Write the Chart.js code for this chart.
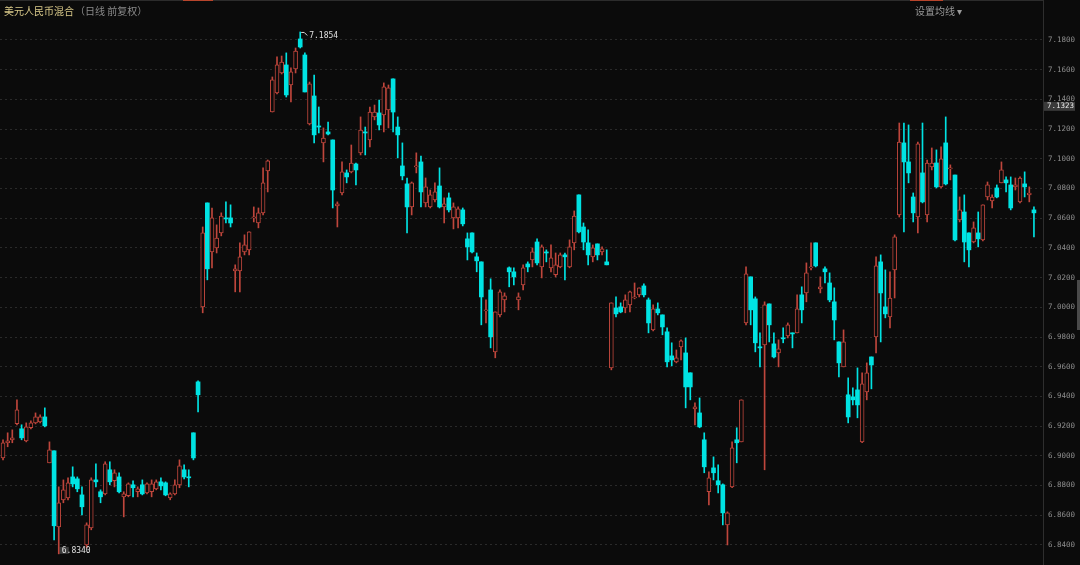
<!DOCTYPE html>
<html>
<head>
<meta charset="utf-8">
<script src="https://cdn.jsdelivr.net/npm/chart.js@4.4.1/dist/chart.umd.min.js"></script>
<style>
  html, body { margin: 0; padding: 0; background: #0b0b0b; }
  #wrap { position: relative; width: 1080px; height: 565px; }
</style>
</head>
<body>
<div id="wrap"><canvas id="kline"></canvas></div>
<script>
// ==== 数据 (日线, 前复权) ====
const TITLE = '美元人民币混合';
const SUBTITLE = '（日线 前复权）';
const MENU = '设置均线 ▾';
const CURSOR_PRICE = 7.1323;

const Y_TICKS = [6.84, 6.86, 6.88, 6.90, 6.92, 6.94, 6.96, 6.98, 7.00,
                 7.02, 7.04, 7.06, 7.08, 7.10, 7.12, 7.14, 7.16, 7.18];

const OPEN = [
  6.8986, 6.9088, 6.9108, 6.9216, 6.9182, 6.9101, 6.9189, 6.9222, 6.9229, 6.9262,
  6.8953, 6.9034, 6.8522, 6.8704, 6.8717, 6.8858, 6.8845, 6.8737, 6.8400, 6.8515,
  6.8838, 6.8758, 6.8744, 6.8906, 6.8832, 6.8858, 6.8724, 6.8731, 6.8805, 6.8758,
  6.8805, 6.8751, 6.8758, 6.8778, 6.8825, 6.8818, 6.8717, 6.8744, 6.8805, 6.8906,
  6.8858, 6.9155, 6.9498, 7.0003, 7.0703, 7.0373, 7.0400, 7.0501, 7.0602, 7.0602,
  7.0245, 7.0245, 7.0373, 7.0387, 7.0602, 7.0568, 7.0636, 7.0918, 7.1315, 7.1443,
  7.1578, 7.1632, 7.1497, 7.1605, 7.1807, 7.1699, 7.1235, 7.1423, 7.1221, 7.1107,
  7.1181, 7.1127, 7.0683, 7.0770, 7.0905, 7.0912, 7.0965, 7.1040, 7.1181, 7.1127,
  7.1282, 7.1309, 7.1295, 7.1329, 7.1538, 7.1214, 7.0952, 7.0831, 7.0676, 7.0945,
  7.0979, 7.0703, 7.0676, 7.0723, 7.0817, 7.0676, 7.0737, 7.0602, 7.0602, 7.0656,
  7.0461, 7.0501, 7.0340, 7.0306, 6.9976, 7.0117, 6.9700, 6.9949, 7.0050, 7.0266,
  7.0239, 7.0050, 7.0151, 7.0292, 7.0319, 7.0440, 7.0272, 7.0373, 7.0266, 7.0219,
  7.0272, 7.0353, 7.0272, 7.0434, 7.0757, 7.0541, 7.0434, 7.0340, 7.0427, 7.0373,
  7.0306, 6.9592, 6.9996, 7.0003, 6.9996, 7.0016, 7.0063, 7.0084, 7.0144, 7.0050,
  6.9848, 6.9989, 6.9949, 6.9835, 6.9673, 6.9633, 6.9734, 6.9693, 6.9559, 6.9316,
  6.9289, 6.9108, 6.8758, 6.8919, 6.8832, 6.8805, 6.8535, 6.8791, 6.9108, 6.9094,
  6.9895, 7.0205, 7.0057, 6.9734, 6.9747, 7.0023, 6.9754, 6.9693, 6.9794, 6.9808,
  6.9828, 6.9828, 7.0084, 7.0097, 7.0266, 7.0434, 7.0124, 7.0259, 7.0164, 7.0037,
  6.9767, 6.9599, 6.9411, 6.9397, 6.9444, 6.9094, 6.9431, 6.9666, 6.9801, 7.0306,
  7.0003, 6.9936, 7.0252, 7.0622, 7.1107, 7.0979, 7.0743, 7.0608, 7.0905, 7.0622,
  7.0945, 7.0972, 7.0811, 7.1107, 7.0932, 7.0891, 7.0588, 7.0642, 7.0501, 7.0440,
  7.0501, 7.0454, 7.0743, 7.0716, 7.0804, 7.0838, 7.0858, 7.0824, 7.0811, 7.0710,
  7.0831, 7.0757, 7.0656
];
const HIGH = [
  6.9108, 6.9155, 6.9175, 6.9377, 6.9209, 6.9222, 6.9235, 6.9289, 6.9276, 6.9323,
  6.9094, 6.9034, 6.8791, 6.8838, 6.8852, 6.8926, 6.8858, 6.8791, 6.8549, 6.8852,
  6.8946, 6.8771, 6.8960, 6.8960, 6.8906, 6.8885, 6.8758, 6.8818, 6.8832, 6.8791,
  6.8838, 6.8818, 6.8838, 6.8838, 6.8852, 6.8825, 6.8751, 6.8838, 6.8973, 6.8940,
  6.8906, 6.9155, 6.9505, 7.0541, 7.0703, 7.0669, 7.0555, 7.0636, 7.0710, 7.0690,
  7.0286, 7.0434, 7.0488, 7.0508, 7.0676, 7.0669, 7.0939, 7.0992, 7.1551, 7.1686,
  7.1692, 7.1713, 7.1612, 7.1746, 7.1854, 7.1713, 7.1517, 7.1564, 7.1349, 7.1208,
  7.1248, 7.1127, 7.0710, 7.0979, 7.0925, 7.1093, 7.0972, 7.1282, 7.1214, 7.1349,
  7.1362, 7.1396, 7.1511, 7.1497, 7.1538, 7.1282, 7.1107, 7.0871, 7.0844, 7.1040,
  7.1019, 7.0871, 7.0790, 7.0838, 7.0939, 7.0737, 7.0770, 7.0703, 7.0676, 7.0669,
  7.0501, 7.0501, 7.0366, 7.0306, 7.0050, 7.0192, 6.9969, 7.0117, 7.0097, 7.0272,
  7.0266, 7.0097, 7.0286, 7.0306, 7.0400, 7.0461, 7.0420, 7.0387, 7.0420, 7.0366,
  7.0366, 7.0366, 7.0454, 7.0649, 7.0757, 7.0568, 7.0521, 7.0420, 7.0427, 7.0407,
  7.0387, 7.0030, 7.0070, 7.0030, 7.0084, 7.0110, 7.0164, 7.0131, 7.0158, 7.0063,
  7.0016, 7.0030, 6.9949, 6.9862, 6.9761, 6.9713, 6.9781, 6.9794, 6.9559, 6.9357,
  6.9390, 6.9155, 6.8893, 6.8993, 6.8940, 6.8811, 6.8623, 6.9094, 6.9189, 6.9377,
  7.0272, 7.0205, 7.0070, 6.9828, 7.0037, 7.0023, 6.9828, 6.9781, 6.9862, 6.9895,
  6.9828, 7.0084, 7.0138, 7.0299, 7.0434, 7.0434, 7.0205, 7.0272, 7.0232, 7.0131,
  6.9767, 6.9848, 6.9525, 6.9458, 6.9592, 6.9559, 6.9626, 6.9666, 7.0340, 7.0353,
  7.0252, 7.0239, 7.0488, 7.1241, 7.1241, 7.1228, 7.0770, 7.1113, 7.1241, 7.0992,
  7.1073, 7.1060, 7.1080, 7.1282, 7.0959, 7.0891, 7.0743, 7.0757, 7.0501, 7.0575,
  7.0642, 7.0690, 7.0844, 7.0757, 7.0824, 7.0979, 7.0878, 7.0878, 7.0871, 7.0878,
  7.0912, 7.0811, 7.0676
];
const LOW = [
  6.8973, 6.9061, 6.9088, 6.9209, 6.9108, 6.9094, 6.9182, 6.9215, 6.9222, 6.9195,
  6.8953, 6.8434, 6.8340, 6.8684, 6.8704, 6.8791, 6.8758, 6.8603, 6.8380, 6.8502,
  6.8791, 6.8684, 6.8737, 6.8805, 6.8791, 6.8751, 6.8589, 6.8724, 6.8724, 6.8724,
  6.8737, 6.8744, 6.8724, 6.8771, 6.8771, 6.8731, 6.8704, 6.8737, 6.8785, 6.8845,
  6.8791, 6.8973, 6.9296, 6.9963, 7.0185, 7.0266, 7.0366, 7.0481, 7.0568, 7.0541,
  7.0104, 7.0104, 7.0353, 7.0353, 7.0575, 7.0535, 7.0622, 7.0777, 7.1315, 7.1437,
  7.1571, 7.1416, 7.1383, 7.1578, 7.1746, 7.1450, 7.1228, 7.1107, 7.1174, 7.0979,
  7.1161, 7.0669, 7.0541, 7.0757, 7.0838, 7.0905, 7.0824, 7.1026, 7.1026, 7.1080,
  7.1262, 7.1194, 7.1181, 7.1208, 7.1181, 7.1006, 7.0858, 7.0501, 7.0622, 7.0905,
  7.0676, 7.0676, 7.0669, 7.0710, 7.0669, 7.0568, 7.0642, 7.0528, 7.0535, 7.0548,
  7.0319, 7.0366, 7.0239, 6.9882, 6.9895, 6.9727, 6.9660, 6.9936, 6.9969, 7.0138,
  7.0151, 6.9983, 7.0117, 7.0239, 7.0272, 7.0286, 7.0198, 7.0306, 7.0239, 7.0205,
  7.0266, 7.0185, 7.0266, 7.0387, 7.0501, 7.0387, 7.0286, 7.0306, 7.0319, 7.0353,
  7.0286, 6.9579, 6.9936, 6.9963, 6.9963, 6.9969, 7.0057, 7.0070, 7.0070, 6.9828,
  6.9841, 6.9949, 6.9815, 6.9599, 6.9606, 6.9626, 6.9646, 6.9323, 6.9377, 6.9209,
  6.9189, 6.8886, 6.8670, 6.8838, 6.8751, 6.8535, 6.8400, 6.8785, 6.8953, 6.9094,
  6.9882, 6.9882, 6.9700, 6.9599, 6.8906, 6.9767, 6.9660, 6.9599, 6.9761, 6.9794,
  6.9727, 6.9828, 6.9895, 7.0037, 7.0252, 7.0272, 7.0097, 7.0164, 7.0037, 6.9781,
  6.9532, 6.9599, 6.9222, 6.9343, 6.9256, 6.9088, 6.9377, 6.9451, 6.9693, 6.9767,
  6.9929, 6.9862, 7.0063, 7.0608, 7.0508, 7.0838, 7.0575, 7.0501, 7.0703, 7.0575,
  7.0925, 7.0804, 7.0804, 7.0824, 7.0858, 7.0447, 7.0575, 7.0306, 7.0272, 7.0434,
  7.0407, 7.0447, 7.0723, 7.0669, 7.0737, 7.0838, 7.0777, 7.0656, 7.0790, 7.0703,
  7.0743, 7.0710, 7.0474
];
const CLOSE = [
  6.9088, 6.9101, 6.9121, 6.9310, 6.9121, 6.9195, 6.9222, 6.9262, 6.9262, 6.9202,
  6.9040, 6.8529, 6.8684, 6.8771, 6.8818, 6.8811, 6.8778, 6.8657, 6.8535, 6.8838,
  6.8825, 6.8724, 6.8946, 6.8825, 6.8885, 6.8758, 6.8744, 6.8811, 6.8785, 6.8778,
  6.8744, 6.8811, 6.8811, 6.8825, 6.8798, 6.8737, 6.8744, 6.8805, 6.8933, 6.8858,
  6.8852, 6.8986, 6.9411, 7.0501, 7.0259, 7.0602, 7.0467, 7.0615, 7.0595, 7.0568,
  7.0259, 7.0340, 7.0420, 7.0508, 7.0608, 7.0636, 7.0838, 7.0986, 7.1531, 7.1632,
  7.1652, 7.1430, 7.1585, 7.1726, 7.1753, 7.1450, 7.1504, 7.1161, 7.1214, 7.1140,
  7.1167, 7.0790, 7.0696, 7.0912, 7.0878, 7.0972, 7.0925, 7.1194, 7.1174, 7.1315,
  7.1315, 7.1228, 7.1484, 7.1477, 7.1315, 7.1161, 7.0885, 7.0676, 7.0838, 7.0952,
  7.0777, 7.0811, 7.0757, 7.0777, 7.0676, 7.0696, 7.0656, 7.0676, 7.0663, 7.0562,
  7.0407, 7.0373, 7.0313, 7.0070, 6.9983, 6.9801, 6.9969, 7.0104, 7.0077, 7.0239,
  7.0205, 7.0070, 7.0266, 7.0272, 7.0373, 7.0299, 7.0407, 7.0366, 7.0333, 7.0286,
  7.0353, 7.0340, 7.0407, 7.0615, 7.0508, 7.0440, 7.0353, 7.0400, 7.0353, 7.0393,
  7.0286, 7.0030, 6.9956, 6.9969, 7.0050, 7.0104, 7.0070, 7.0131, 7.0084, 6.9895,
  6.9989, 6.9963, 6.9868, 6.9633, 6.9646, 6.9660, 6.9774, 6.9464, 6.9464, 6.9330,
  6.9195, 6.8926, 6.8852, 6.8886, 6.8805, 6.8616, 6.8616, 6.9054, 6.9088, 6.9377,
  7.0225, 6.9983, 6.9761, 6.9727, 7.0016, 6.9882, 6.9666, 6.9720, 6.9788, 6.9882,
  6.9821, 6.9989, 6.9983, 7.0232, 7.0272, 7.0279, 7.0138, 7.0239, 7.0050, 6.9915,
  6.9626, 6.9767, 6.9262, 6.9377, 6.9343, 6.9485, 6.9559, 6.9612, 7.0279, 7.0097,
  6.9956, 7.0063, 7.0474, 7.1113, 7.0979, 7.0905, 7.0636, 7.1100, 7.0710, 7.0972,
  7.0972, 7.0811, 7.0999, 7.0831, 7.0939, 7.0454, 7.0656, 7.0440, 7.0387, 7.0535,
  7.0461, 7.0690, 7.0824, 7.0743, 7.0743, 7.0925, 7.0838, 7.0669, 7.0824, 7.0871,
  7.0811, 7.0770, 7.0636
];

// ==== 颜色 ====
const BG = '#0b0b0b';
const RED = '#bf463c';
const CYAN = '#00e3e3';
const GRID = '#2a2a2a';
const AXIS_TXT = '#8e8e8e';

const isUp = i => CLOSE[i] >= OPEN[i];
const wickData = OPEN.map((o, i) => ({ x: i, y: [LOW[i], HIGH[i]] }));
const bodyData = OPEN.map((o, i) => ({ x: i, y: [o, CLOSE[i]] }));

// 顶部标题 / 右侧价位 / 最高最低标注
const decor = {
  id: 'decor',
  beforeDraw(chart) {
    const { ctx, width, height } = chart;
    ctx.save();
    ctx.fillStyle = BG;
    ctx.fillRect(0, 0, width, height);
    ctx.restore();
  },
  afterDraw(chart) {
    const { ctx, chartArea, scales: { x, y } } = chart;
    ctx.save();
    // 顶部细线和标签页残影
    ctx.fillStyle = '#2c2c2c';
    ctx.fillRect(0, 0, 1043, 1);
    ctx.fillStyle = '#b8452c';
    ctx.fillRect(183, 0, 30, 1);
    ctx.fillRect(910, 0, 33, 1);
    // 右侧坐标轴竖线
    ctx.fillStyle = '#2e2e2e';
    ctx.fillRect(chartArea.right, 0, 1, chart.height);
    // 右边缘滚动条
    ctx.fillStyle = '#4a4a4a';
    ctx.fillRect(1077, 280, 3, 50);

    // 标题
    ctx.textBaseline = 'middle';
    ctx.textAlign = 'left';
    ctx.font = '10px "Noto Sans CJK SC"';
    ctx.fillStyle = '#d9c98a';
    ctx.fillText(TITLE, 4, 11);
    const tw = ctx.measureText(TITLE).width;
    ctx.fillStyle = '#8a8a8a';
    ctx.fillText(SUBTITLE, 4 + tw + 1, 11);
    ctx.fillStyle = '#9a9a9a';
    ctx.fillText(MENU, 915, 11);

    // 当前价位标签
    const cy = y.getPixelForValue(CURSOR_PRICE) - 5;
    ctx.fillStyle = '#3a3a3a';
    ctx.fillRect(chartArea.right + 1, cy - 4, 31, 9);
    ctx.font = '7.5px "DejaVu Sans Mono"';
    ctx.fillStyle = '#e6e6e6';
    ctx.fillText(CURSOR_PRICE.toFixed(4), chartArea.right + 4, cy + 0.5);

    // 最高 / 最低
    const hi = HIGH.indexOf(Math.max(...HIGH));
    const lo = LOW.indexOf(Math.min(...LOW));
    ctx.font = '8px "DejaVu Sans Mono"';
    ctx.strokeStyle = '#d8d8d8';
    ctx.fillStyle = '#e0e0e0';
    ctx.lineWidth = 1;
    let px = x.getPixelForValue(hi), py = y.getPixelForValue(HIGH[hi]);
    ctx.beginPath();
    ctx.moveTo(px + 1, py + 0.5);
    ctx.lineTo(px + 4, py + 0.5);
    ctx.lineTo(px + 7, py + 3.5);
    ctx.stroke();
    ctx.fillText(HIGH[hi].toFixed(4), px + 9, py + 4);

    px = x.getPixelForValue(lo); py = y.getPixelForValue(LOW[lo]);
    ctx.fillStyle = 'rgba(150,150,150,0.35)';
    ctx.fillRect(px + 1, py - 7, 9, 7);
    ctx.fillStyle = '#e0e0e0';
    ctx.fillText(LOW[lo].toFixed(4), px + 3, py - 3);
    ctx.restore();
  }
};

new Chart(document.getElementById('kline'), {
  type: 'bar',
  data: {
    datasets: [
      {
        label: 'wick',
        data: wickData,
        backgroundColor: ctx => isUp(ctx.dataIndex) ? RED : CYAN,
        barThickness: 1,
        grouped: false,
        order: 2
      },
      {
        label: 'body',
        data: bodyData,
        backgroundColor: ctx => isUp(ctx.dataIndex) ? BG : CYAN,
        borderColor: ctx => isUp(ctx.dataIndex) ? RED : CYAN,
        borderWidth: ctx => isUp(ctx.dataIndex) ? 1 : 0,
        borderSkipped: false,
        barThickness: 4,
        minBarLength: 1,
        grouped: false,
        order: 1
      }
    ]
  },
  options: {
    responsive: true,
    maintainAspectRatio: false,
    animation: false,
    layout: { padding: { top: 18, left: 0, right: 0, bottom: 0 } },
    plugins: { legend: { display: false }, tooltip: { enabled: false } },
    scales: {
      x: {
        type: 'linear',
        min: -0.65,
        max: 223.95,
        offset: false,
        display: false
      },
      y: {
        position: 'right',
        min: 6.8265,
        max: 7.1948,
        afterBuildTicks: axis => { axis.ticks = Y_TICKS.map(v => ({ value: v })); },
        afterFit: axis => {
          axis.width = 37;
          axis.paddingTop = 0;
          axis.paddingBottom = 0;
        },
        grid: { color: GRID, lineWidth: 1, drawTicks: false },
        border: { display: false, dash: [2, 3] },
        ticks: {
          padding: 5,
          color: AXIS_TXT,
          font: { family: 'DejaVu Sans Mono', size: 7.5 },
          callback: v => Number(v).toFixed(4)
        }
      }
    }
  },
  plugins: [decor]
});
</script>
</body>
</html>
